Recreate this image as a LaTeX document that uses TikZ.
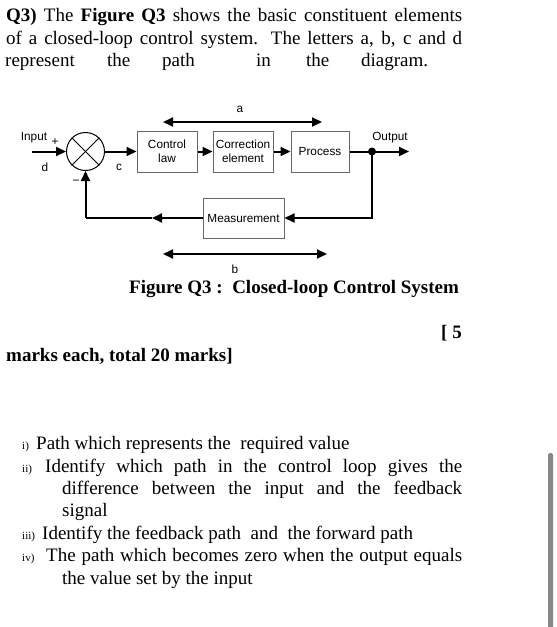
\documentclass[tikz,border=0pt]{standalone}
\usepackage{fontspec}
\setmainfont{Liberation Serif}
\newfontfamily\arialf{Liberation Sans}
\usetikzlibrary{arrows.meta}
\begin{document}
\begin{tikzpicture}[x=1pt,y=-1pt,
  blk/.style={draw=black!60,line width=1pt,minimum width=60pt,minimum height=41pt,inner sep=1pt,align=center,font=\arialf\fontsize{11.8}{14}\selectfont},
  ln/.style={line width=2pt},
  arr/.style={line width=2pt,-{Triangle[length=10pt,width=9pt]}},
  dbl/.style={line width=2pt,{Triangle[length=10pt,width=9pt]}-{Triangle[length=10pt,width=9pt]}},
  lbl/.style={inner sep=0pt,font=\arialf\fontsize{11.8}{14}\selectfont},
  body/.style={inner sep=0pt,anchor=base west,font=\fontsize{19}{22.5}\selectfont},
  small/.style={inner sep=0pt,anchor=base west,font=\fontsize{11}{13}\selectfont}]
\useasboundingbox[fill=white] (0,0) rectangle (557,627);

% top paragraph
\node[body] (t1) at (6,21) {\makebox[456pt][s]{\textbf{Q3)} The \textbf{Figure Q3} shows the basic constituent elements}};
\node[body] (t2) at (6,44) {\makebox[456pt][s]{of a closed-loop control system. The letters a, b, c and d}};
\node[body] (w1) at (5,66) {represent};
\node[body] (w2) at (107,66) {the};
\node[body] (w3) at (162,66) {path};
\node[body] (w4) at (256,66) {in};
\node[body] (w5) at (306,66) {the};
\node[body] (w6) at (361,66) {diagram.};

% diagram
\node[draw,circle,line width=1pt,minimum size=38pt,inner sep=0pt] (sum) at (85.5,151.5) {};
\draw[line width=1pt] (sum.north west) -- (sum.south east);
\draw[line width=1pt] (sum.north east) -- (sum.south west);
\node[blk] (ctl) at (167,151.5) {Control\\law};
\node[blk] (cor) at (243,151.5) {Correction\\element};
\node[blk,minimum width=58pt] (proc) at (320,151.5) {Process};
\node[blk,minimum width=81pt,minimum height=40pt] (meas) at (243.5,218) {Measurement};

\coordinate (in) at (32,151.5);
\coordinate (dot) at (372,151.5);
\coordinate (out) at (409,151.5);
\coordinate (fb1) at (372,218);
\coordinate (fbmid) at (152,218);
\coordinate (fb2) at (85.5,218);

\draw[arr] (in) -- (sum.west);
\draw[arr] (sum.east) -- (ctl.west);
\draw[arr] (ctl.east) -- (cor.west);
\draw[arr] (cor.east) -- (proc.west);
\draw[ln] (proc.east) -- (dot);
\draw[arr] (dot) -- (out);
\fill (dot) circle (4pt);
\draw[arr] (dot) -- (fb1) -- (meas.east);
\draw[arr] (meas.west) -- (fbmid);
\draw[ln] (fbmid) -- (fb2);
\draw[arr] (fb2) -- (sum.south);

\coordinate (a1) at (163,122);
\coordinate (a2) at (322,122);
\draw[dbl] (a1) -- (a2);
\coordinate (b1) at (163,254);
\coordinate (b2) at (327,254);
\draw[dbl] (b1) -- (b2);

\node[lbl] (la) at (240,109) {a};
\node[lbl] (lb) at (235,269) {b};
\node[lbl] (linput) at (34,138) {Input};
\node[lbl] (lplus) at (55,142) {+};
\node[lbl] (ld) at (45,167) {d};
\node[lbl] (lc) at (119,167) {c};
\node[lbl] (lminus) at (76,182) {−};
\node[lbl] (lout) at (390,138) {Output};

% caption and marks
\node[body] (cap) at (129,293) {\textbf{Figure Q3 :\ \ Closed-loop Control System}};
\node[body,anchor=base east] (m5) at (462,338) {\textbf{[ 5}};
\node[body] (m2) at (6,361) {\textbf{marks each, total 20 marks]}};

% list
\node[small] (i1) at (22,449) {i)};
\node[body] (q1) at (36,449) {Path which represents the\ \ required value};
\node[small] (i2) at (22,472) {ii)};
\node[body] (q2a) at (45,472) {\makebox[417pt][s]{Identify which path in the control loop gives the}};
\node[body] (q2b) at (62,494) {\makebox[400pt][s]{difference between the input and the feedback}};
\node[body] (q2c) at (62,516) {signal};
\node[small] (i3) at (22,539) {iii)};
\node[body] (q3) at (42,539) {Identify the feedback path\ \ and\ \ the forward path};
\node[small] (i4) at (22,561) {iv)};
\node[body] (q4a) at (46,561) {\makebox[416pt][s]{The path which becomes zero when the output equals}};
\node[body] (q4b) at (62,584) {the value set by the input};

% scrollbar
\fill[black!47,rounded corners=1.5pt] (548,453) rectangle (553,630);
\end{tikzpicture}
\end{document}
